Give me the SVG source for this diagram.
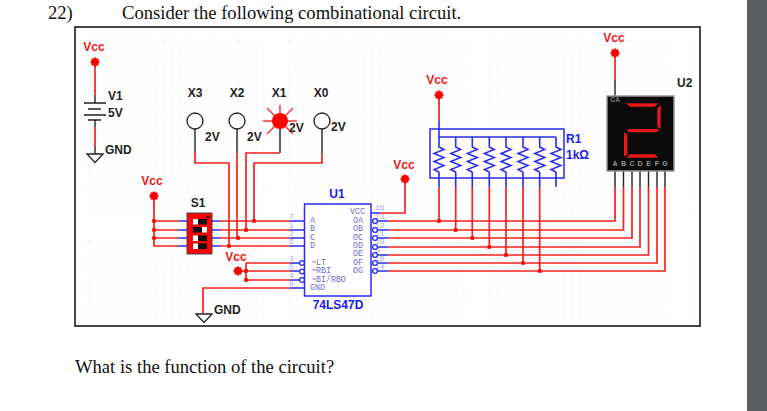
<svg xmlns="http://www.w3.org/2000/svg" width="767" height="411" viewBox="0 0 767 411">
<style>
.page{font-family:"Liberation Serif",serif;font-size:18.6px;fill:#111}
.lb{font-family:"Liberation Sans",Arial,sans-serif;font-weight:bold;font-size:12px;fill:#222}
.vcc{font-family:"Liberation Sans",Arial,sans-serif;font-weight:bold;font-size:12px;fill:#f01818;text-anchor:middle}
.blu{font-family:"Liberation Sans",Arial,sans-serif;font-weight:bold;font-size:12px;fill:#1a1af0}
.pin{font-family:"Liberation Mono",monospace;font-size:8px;fill:#a8a8ee}
.ic{font-family:"Liberation Mono",monospace;font-size:8.3px;fill:#6c6cc8}
.seg{font-family:"Liberation Sans",Arial,sans-serif;font-weight:bold;font-size:7px;fill:#999;text-anchor:middle}
.r{fill:none;stroke:#f92020;stroke-width:1.7}
.b{fill:none;stroke:#2a2af0;stroke-width:1.6}
.k{fill:none;stroke:#222;stroke-width:1.4}
.j{fill:#f00;stroke:none}
.v{fill:#f00;stroke:none}
.ps{fill:#fff;stroke:#222;stroke-width:1.3}
.g{fill:#fff;stroke:#222;stroke-width:1.3}
</style>
<defs>
<pattern id="grid" x="77" y="29" width="8.33" height="8.33" patternUnits="userSpaceOnUse"><rect x="3" y="3" width="1" height="1" fill="#dcdcdc"/></pattern>
<rect id="jn" class="j" x="-1.8" y="-1.8" width="3.6" height="3.6"/>
<path id="vd" class="v" d="M0-5L1.500-3.500L3.500-3.500L3.500-1.500L5 0L3.500 1.500L3.500 3.500L1.500 3.500L0 5L-1.500 3.500L-3.500 3.500L-3.500 1.500L-5 0L-3.500-1.500L-3.500-3.500L-1.500-3.500Z"/>
<path id="zz" d="M0 0V2L5 4.500L-5 8.500L5 12.500L-5 16.500L5 20.500L-5 24.500L0 27" fill="none" stroke="#2a2af0" stroke-width="1.500"/>
</defs>
<rect width="767" height="411" fill="#fff"/>
<rect x="747" y="0" width="20" height="411" fill="#5b5e60"/>
<text class="page" x="48" y="19">22)</text>
<text class="page" x="122" y="19">Consider the following combinational circuit.</text>
<rect x="75" y="27" width="625" height="299" fill="url(#grid)" stroke="#333" stroke-width="1.800"/>
<text class="page" x="75" y="373">What is the function of the circuit?</text>

<g id="connectors">
<path class="r" d="M95 62V95M95 127V147"/>
<path class="k" d="M95 95V103M95 120V127M95 147V154"/>
<path class="k" d="M195 129V153M237 129V153M280 129V153M322 129V153"/>
<path class="r" d="M195 153V163H229V246M237 153V238M280 153H246V230M322 153V163H254V221"/>
<path class="r" d="M154 196V246H179M154 221H179M154 230H179M154 238H179"/>
<path class="b" d="M179 221H187M179 230H187M179 238H187M179 246H187M212 221H220M212 230H220M212 238H220M212 246H220"/>
<path class="r" d="M220 221H290M220 230H290M220 238H290M220 246H290"/>
<path class="b" d="M290 221H304M290 230H304M290 238H304M290 246H304"/>
<path class="r" d="M238 271H290M246 263V280M246 263H290M246 280H290M203 313V288H290"/>
<path class="b" d="M290 263H299.500M290 271H299.500M290 280H299.500M290 288H304"/>
<path class="r" d="M380 213H405V179"/>
<path class="b" d="M371 213H380M378 221H388M378 230H388M378 238H388M378 247H388M378 255H388M378 263H388M378 271H388"/>
<path class="r" d="M388 221H615V187M388 230H623.500V187M388 238H632V187M388 247H640V187M388 255H648.500V187M388 263H657V187M388 271H665V187"/>
<path class="r" d="M439 187V221M455.700 187V230M472.300 187V238M489.300 187V247M506 187V255M523 187V263M539.700 187V271"/>
<path class="r" d="M439 95V121M615 53V80"/>
<path class="k" d="M615 80V96M615 171V187M623.500 171V187M632 171V187M640 171V187M648.500 171V187M657 171V187M665 171V187"/>
<path class="b" d="M439 121V145M439 172V187M439 137H556M455.700 137V145M472.300 137V145M489.300 137V145M506 137V145M523 137V145M539.700 137V145M556 137V145M455.700 172V187M472.300 172V187M489.300 172V187M506 172V187M523 172V187M539.700 172V187M556 172V187"/>
<use href="#jn" x="154" y="221"/><use href="#jn" x="154" y="230"/><use href="#jn" x="154" y="238"/>
<use href="#jn" x="254" y="221"/><use href="#jn" x="246" y="230"/><use href="#jn" x="238" y="238"/><use href="#jn" x="229" y="246"/>
<use href="#jn" x="246" y="271"/><use href="#jn" x="246" y="280"/>
<use href="#jn" x="439" y="221"/><use href="#jn" x="455.700" y="230"/><use href="#jn" x="472.300" y="238"/><use href="#jn" x="489.300" y="247"/><use href="#jn" x="506" y="255"/><use href="#jn" x="523" y="263"/><use href="#jn" x="539.700" y="271"/>
</g>

<g id="vcc1"><use href="#vd" x="95" y="62"/><text class="vcc" x="94" y="51">Vcc</text></g>
<g id="v1">
<path class="k" d="M84 103H106M88 109H101M84 115H106M88 120H101"/>
<text class="lb" x="108" y="100">V1</text><text class="lb" x="108" y="117">5V</text>
</g>
<g id="gnd1"><path class="g" d="M87 154H103L95 162.500Z"/><text class="lb" x="105" y="154">GND</text></g>

<g id="x3"><circle class="ps" cx="195" cy="121" r="8"/><text class="lb" x="195" y="97" text-anchor="middle">X3</text><text class="lb" x="205" y="141">2V</text></g>
<g id="x2"><circle class="ps" cx="237" cy="121" r="8"/><text class="lb" x="237" y="97" text-anchor="middle">X2</text><text class="lb" x="247" y="141">2V</text></g>
<g id="x1">
<path stroke="#f33" stroke-width="1.500" d="M280 121L263 121M280 121L297 121M280 121L280 105M280 121L267 108M280 121L293 108M280 121L267 134M280 121L293 134"/>
<circle cx="280" cy="121" r="8" fill="#f00"/>
<text class="lb" x="279" y="97" text-anchor="middle">X1</text><text class="lb" x="289" y="132">2V</text></g>
<g id="x0"><circle class="ps" cx="322" cy="121" r="8"/><text class="lb" x="321" y="97" text-anchor="middle">X0</text><text class="lb" x="331" y="131">2V</text></g>

<g id="vcc2"><use href="#vd" x="154" y="196"/><text class="vcc" x="152" y="185">Vcc</text></g>
<g id="s1">
<rect x="187" y="213" width="25" height="41" fill="#f00" stroke="#444" stroke-width="1"/>
<circle cx="208" cy="217" r="1.500" fill="#111"/>
<rect x="193" y="219" width="14" height="5.500" fill="#111"/><rect x="193" y="219" width="5" height="5.500" fill="#fff"/>
<rect x="193" y="227" width="14" height="5.500" fill="#111"/><rect x="202" y="227" width="5" height="5.500" fill="#fff"/>
<rect x="193" y="235.500" width="14" height="5.500" fill="#111"/><rect x="193" y="235.500" width="5" height="5.500" fill="#fff"/>
<rect x="193" y="243.500" width="14" height="5.500" fill="#111"/><rect x="193" y="243.500" width="5" height="5.500" fill="#fff"/>
<text class="lb" x="198" y="207" text-anchor="middle">S1</text>
</g>
<g id="vcc3"><use href="#vd" x="238" y="271"/><text class="vcc" x="236" y="261">Vcc</text></g>
<g id="gnd2"><path class="g" d="M196 314H212L204 322.500Z"/><text class="lb" x="214" y="314">GND</text></g>

<g id="u1">
<rect x="304.500" y="204" width="66.500" height="92" fill="#fff" fill-opacity=".85" stroke="#2a2af0" stroke-width="1.500"/>
<text class="blu" x="337" y="198" text-anchor="middle">U1</text>
<text class="blu" x="338" y="309" text-anchor="middle">74LS47D</text>
<g class="pin"><text x="289" y="219">7</text><text x="289" y="228">1</text><text x="289" y="236">2</text><text x="289" y="244">6</text><text x="289" y="261">3</text><text x="289" y="269">5</text><text x="289" y="278">4</text><text x="289" y="286">8</text>
<text x="375" y="210">16</text><text x="375" y="219">13</text><text x="375" y="228">12</text><text x="375" y="236">11</text><text x="375" y="244">10</text><text x="375" y="253">9</text><text x="375" y="261">15</text><text x="375" y="269">14</text></g>
<g class="ic"><text x="310" y="223">A</text><text x="310" y="231">B</text><text x="310" y="240">C</text><text x="310" y="248">D</text><text x="311" y="265">~LT</text><text x="311" y="273">~RBI</text><text x="311" y="282">~BI/RBO</text><text x="310" y="290">GND</text>
<text x="350" y="214">VCC</text><text x="353" y="223">OA</text><text x="353" y="231">OB</text><text x="353" y="240">OC</text><text x="353" y="248">OD</text><text x="353" y="256">OE</text><text x="353" y="265">OF</text><text x="353" y="273">OG</text></g>
<g fill="#fff" stroke="#2a2af0" stroke-width="1.300"><circle cx="302" cy="263" r="2.400"/><circle cx="302" cy="271.500" r="2.400"/><circle cx="302" cy="280" r="2.400"/>
<circle cx="375" cy="221" r="2.400"/><circle cx="375" cy="230" r="2.400"/><circle cx="375" cy="238" r="2.400"/><circle cx="375" cy="247" r="2.400"/><circle cx="375" cy="255" r="2.400"/><circle cx="375" cy="263" r="2.400"/><circle cx="375" cy="271" r="2.400"/></g>
</g>

<g id="vcc4"><use href="#vd" x="405" y="179"/><text class="vcc" x="404" y="169">Vcc</text></g>
<g id="vcc5"><use href="#vd" x="439" y="95"/><text class="vcc" x="437" y="84">Vcc</text></g>
<g id="r1">
<rect x="430" y="129" width="134" height="49" fill="none" stroke="#2a2af0" stroke-width="1.500"/>
<use href="#zz" x="439" y="145"/><use href="#zz" x="455.700" y="145"/><use href="#zz" x="472.300" y="145"/><use href="#zz" x="489.300" y="145"/><use href="#zz" x="506" y="145"/><use href="#zz" x="523" y="145"/><use href="#zz" x="539.700" y="145"/><use href="#zz" x="556" y="145"/>
<text class="blu" x="566" y="143">R1</text><text class="blu" x="566" y="159">1kΩ</text>
</g>
<g id="vcc6"><use href="#vd" x="615" y="53"/><text class="vcc" x="614" y="42">Vcc</text></g>
<g id="u2">
<rect x="607" y="96" width="67" height="75" fill="#0a0a0a" stroke="#999" stroke-width="1.500"/>
<text x="610" y="102" font-family="Liberation Sans, sans-serif" font-size="7" font-weight="bold" fill="#777">CA</text>
<g fill="#e81818"><path d="M626 103.300H658.300L655 106.700H630Z"/><path d="M660.700 105V129L657.300 126.700V108.300Z"/><path d="M626.700 131L628.300 129H657.300L659.300 130.300L656 132.300H630Z"/><path d="M624 132.300L627.300 135V154.300L624 157Z"/><path d="M626.700 157.700L630 154.300H655L658.300 157.700Z"/></g>
<text class="seg" x="615" y="166">A</text><text class="seg" x="623.500" y="166">B</text><text class="seg" x="632" y="166">C</text><text class="seg" x="640" y="166">D</text><text class="seg" x="648.500" y="166">E</text><text class="seg" x="657" y="166">F</text><text class="seg" x="665" y="166">G</text>
<text class="lb" x="677" y="87">U2</text>
</g>
</svg>
